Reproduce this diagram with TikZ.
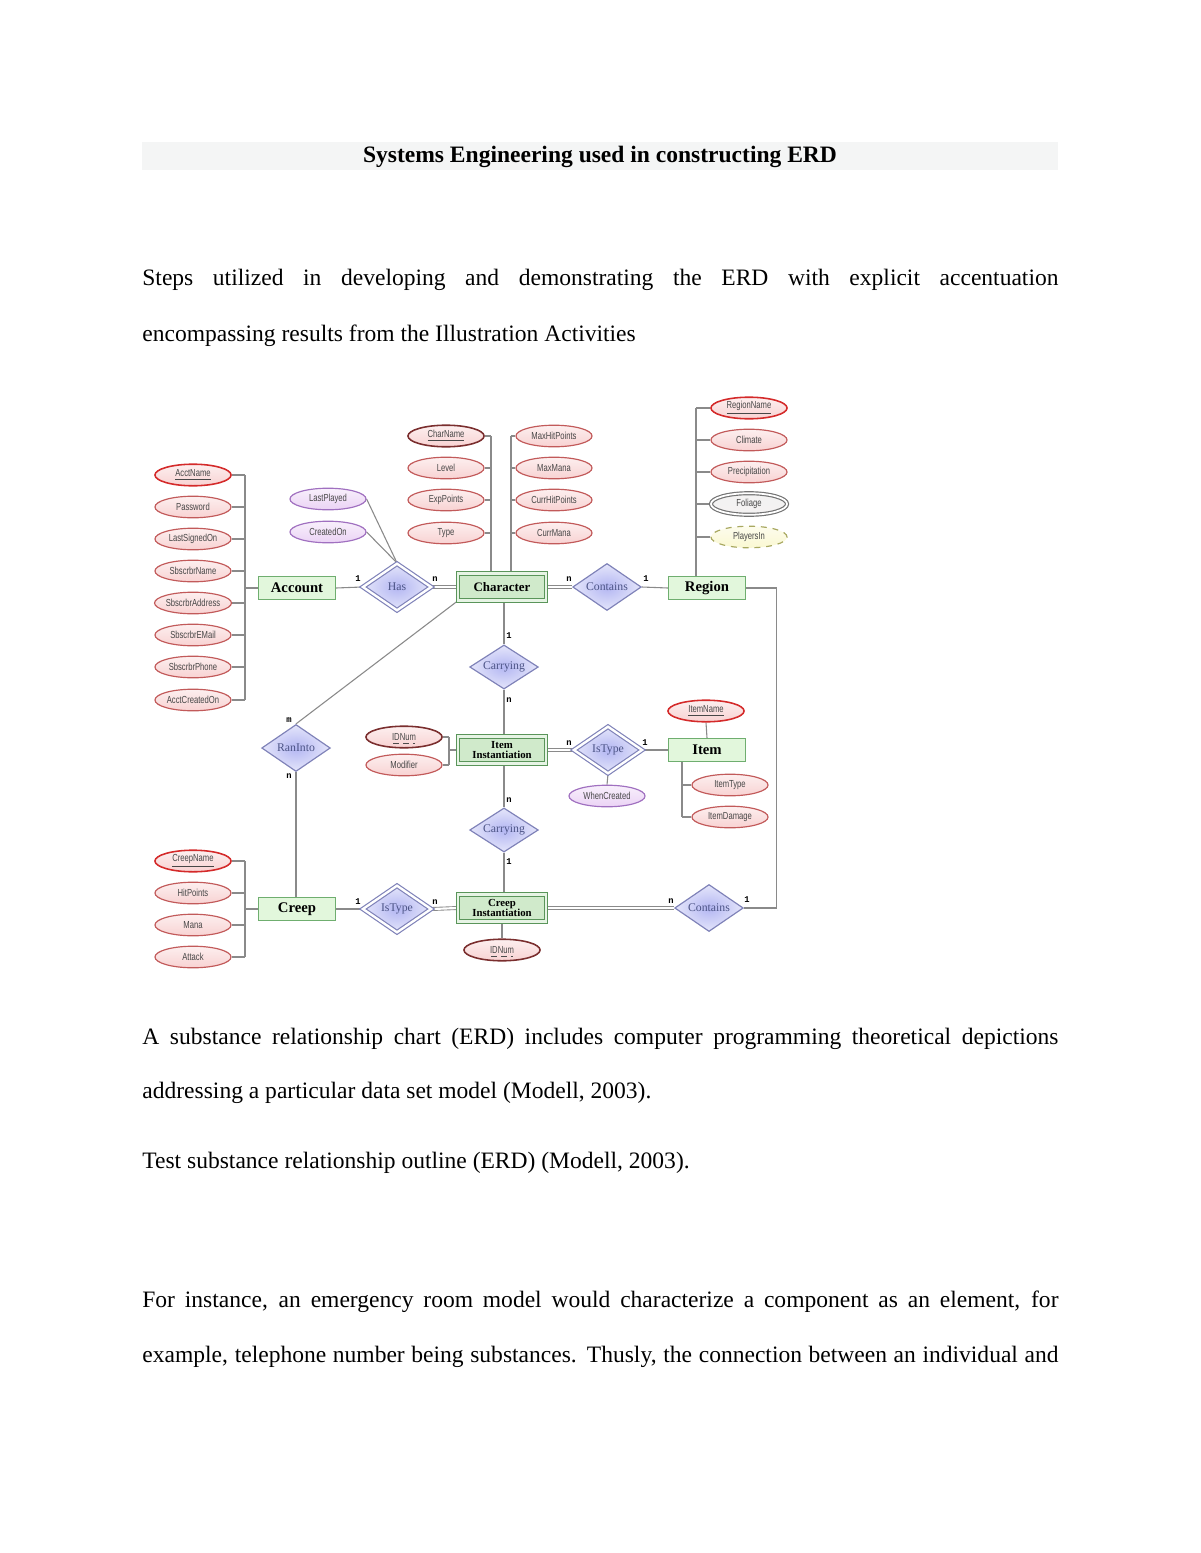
\documentclass[tikz,border=0pt]{standalone}
\usepackage{fontspec}
\setmainfont{Liberation Serif}
\newfontfamily\attrfont[FakeStretch=0.75]{Liberation Sans}
\newfontfamily\cardfont{Liberation Mono}
\usetikzlibrary{shapes.geometric}
\pgfdeclarelayer{bg}
\pgfsetlayers{bg,main}
\definecolor{entfill}{HTML}{E2F7DC}
\definecolor{entdraw}{HTML}{6FAE6F}
\definecolor{wentfill}{HTML}{D0EACB}
\definecolor{wentdraw}{HTML}{5A955A}
\definecolor{relfill}{HTML}{B3B6F2}
\definecolor{reldraw}{HTML}{7F82B8}
\definecolor{reltext}{HTML}{4C5486}
\definecolor{attfill}{HTML}{F8D2D2}
\definecolor{attdraw}{HTML}{C25A5A}
\definecolor{keydraw}{HTML}{D42A2A}
\definecolor{chardraw}{HTML}{7A2E2E}
\definecolor{purfill}{HTML}{EBD3F5}
\definecolor{purdraw}{HTML}{A070C0}
\definecolor{yelfill}{HTML}{FAF8D2}
\definecolor{yeldraw}{HTML}{A8A860}
\definecolor{conncol}{HTML}{8A8A8A}
\definecolor{bandgray}{HTML}{F4F5F5}
\tikzset{
  attr/.style={ellipse, draw=attdraw, line width=0.6pt, top color=attfill!35, bottom color=attfill,
    minimum width=38.8pt, minimum height=11pt, inner sep=0pt, text=black!72,
    font=\attrfont\fontsize{5.2}{5.4}\selectfont},
  keyattr/.style={attr, draw=keydraw, line width=0.8pt},
  purattr/.style={attr, draw=purdraw, top color=purfill!35, bottom color=purfill},
  ent/.style={rectangle, draw=entdraw, line width=0.6pt, fill=entfill, minimum width=39.3pt,
    minimum height=11.7pt, inner sep=0pt, font=\bfseries\fontsize{7.5}{8}\selectfont},
  went/.style={ent, draw=wentdraw, fill=wentfill, double=wentfill!50, double distance=1.2pt,
    minimum width=44.9pt, minimum height=13.8pt, align=center,
    font=\bfseries\fontsize{5.5}{5.2}\selectfont},
  rel/.style={diamond, draw=reldraw, line width=0.6pt, inner color=relfill, outer color=relfill!35,
    minimum width=35pt, minimum height=24pt, inner sep=0pt, aspect=1.4, text=reltext,
    font=\fontsize{6}{6}\selectfont},
  wrel/.style={rel, double=white, double distance=1.2pt},
  cn/.style={draw=conncol, line width=0.55pt},
  dcn/.style={draw=conncol, line width=0.45pt, double=white, double distance=1.1pt},
  card/.style={inner sep=0pt, font=\cardfont\bfseries\fontsize{4.5}{5}\selectfont},
  bodytext/.style={anchor=base west, inner sep=0pt, font=\fontsize{12}{14}\selectfont},
  dul/.style={black!70, densely dashed, line width=0.3pt}
}
\begin{document}
\begin{tikzpicture}[x=0.51pt,y=-0.51pt]
\useasboundingbox (0,0) rectangle (1200,1553);
% title band
\fill[bandgray] (142,142) rectangle (1058,170);
\node[anchor=base, inner sep=0pt, font=\bfseries\fontsize{12}{14}\selectfont] (title) at (600,163) {Systems Engineering used in constructing ERD};
\node[bodytext] (p1) at (142,286) {\makebox[467.2pt][s]{Steps utilized in developing and demonstrating the ERD with explicit accentuation}};
\node[bodytext] (p2) at (142,341) {encompassing results from the Illustration Activities};
\node[bodytext] (p3) at (142,1044) {\makebox[467.2pt][s]{A substance relationship chart (ERD) includes computer programming theoretical depictions}};
\node[bodytext] (p4) at (142,1098) {addressing a particular data set model (Modell, 2003).};
\node[bodytext] (p5) at (142,1168) {Test substance relationship outline (ERD) (Modell, 2003).};
\node[bodytext] (p6) at (142,1307) {\makebox[467.2pt][s]{For instance, an emergency room model would characterize a component as an element, for}};
\node[bodytext] (p7) at (142,1362) {\makebox[467.2pt][s]{example, telephone number being substances. Thusly, the connection between an individual and}};

% ---------- entities ----------
\node[ent] (account) at (297,588) {Account};
\node[went, font=\bfseries\fontsize{6.6}{7}\selectfont] (character) at (502,587) {Character};
\node[ent] (region) at (707,588) {Region};
\node[went] (iteminst) at (502,750) {Item\\Instantiation};
\node[ent] (item) at (707,750) {Item};
\node[ent] (creep) at (297,909) {Creep};
\node[went] (creepinst) at (502,908) {Creep\\Instantiation};

% ---------- relationships ----------
\node[wrel] (has) at (397,587) {Has};
\node[rel] (contains1) at (607,587) {Contains};
\node[rel, minimum height=22.5pt] (carrying1) at (504,667) {Carrying};
\node[wrel] (istype1) at (608,750) {IsType};
\node[rel, minimum height=22.5pt] (carrying2) at (504,830) {Carrying};
\node[rel] (raninto) at (296,748) {RanInto};
\node[wrel] (istype2) at (397,909) {IsType};
\node[rel] (contains2) at (709,908) {Contains};

% ---------- account attributes ----------
\node[keyattr] (a1) at (193,475) {\underline{AcctName}};
\node[attr] (a2) at (193,507) {Password};
\node[attr] (a3) at (193,539) {LastSignedOn};
\node[attr] (a4) at (193,571) {SbscrbrName};
\node[attr] (a5) at (193,603) {SbscrbrAddress};
\node[attr] (a6) at (193,635) {SbscrbrEMail};
\node[attr] (a7) at (193,667) {SbscrbrPhone};
\node[attr] (a8) at (193,700) {AcctCreatedOn};
% has attributes
\node[purattr] (lastplayed) at (328,499) {LastPlayed};
\node[purattr] (createdon) at (328,532) {CreatedOn};
% character attributes
\node[attr, draw=chardraw, line width=0.8pt] (c1) at (446,436) {\underline{CharName}};
\node[attr] (c2) at (446,468) {Level};
\node[attr] (c3) at (446,500) {ExpPoints};
\node[attr] (c4) at (446,533) {Type};
\node[attr] (c5) at (554,436) {MaxHitPoints};
\node[attr] (c6) at (554,468) {MaxMana};
\node[attr] (c7) at (554,500) {CurrHitPoints};
\node[attr] (c8) at (554,533) {CurrMana};
% region attributes
\node[keyattr] (r1) at (749,408) {\underline{RegionName}};
\node[attr] (r2) at (749,440) {Climate};
\node[attr] (r3) at (749,472) {Precipitation};
\node[attr, draw=black!55, top color=black!5, bottom color=attfill!60!black!10, double=white, double distance=0.9pt] (r4) at (749,504) {Foliage};
\node[attr, draw=yeldraw, dashed, top color=yelfill!40, bottom color=yelfill] (r5) at (749,537) {PlayersIn};
% item instantiation attributes
\node[attr, draw=chardraw, line width=0.8pt] (ii1) at (404,737) {IDNum};
\node[attr] (ii2) at (404,765) {Modifier};
\node[purattr] (whencreated) at (607,796) {WhenCreated};
% item attributes
\node[keyattr] (i1) at (706,711) {\underline{ItemName}};
\node[attr] (i2) at (730,785) {ItemType};
\node[attr] (i3) at (730,817) {ItemDamage};
% creep attributes
\node[keyattr] (k1) at (193,861) {\underline{CreepName}};
\node[attr] (k2) at (193,893) {HitPoints};
\node[attr] (k3) at (193,925) {Mana};
\node[attr] (k4) at (193,957) {Attack};
% creep instantiation attribute
\node[attr, draw=chardraw, line width=0.8pt] (ci1) at (502,950) {IDNum};
% dashed underlines of partial keys
\draw[dul] ([xshift=-5.5pt,yshift=-3.0pt]ii1.center) -- ([xshift=5.5pt,yshift=-3.0pt]ii1.center);
\draw[dul] ([xshift=-5.5pt,yshift=-3.0pt]ci1.center) -- ([xshift=5.5pt,yshift=-3.0pt]ci1.center);

% ---------- cardinalities ----------
\node[card] (n1) at (358,579) {1};
\node[card] (n2) at (435,579) {n};
\node[card] (n3) at (569,579) {n};
\node[card] (n4) at (646,579) {1};
\node[card] (n5) at (509,636) {1};
\node[card] (n6) at (509,700) {n};
\node[card] (n7) at (569,743) {n};
\node[card] (n8) at (645,743) {1};
\node[card] (n9) at (509,800) {n};
\node[card] (n10) at (509,862) {1};
\node[card] (n11) at (289,720) {m};
\node[card] (n12) at (289,776) {n};
\node[card] (n13) at (358,902) {1};
\node[card] (n14) at (435,902) {n};
\node[card] (n15) at (671,901) {n};
\node[card] (n16) at (747,900) {1};

% ---------- connectors ----------
\coordinate (busA) at (245,0);
\coordinate (busCL) at (491,0);
\coordinate (busCR) at (511,0);
\coordinate (busR) at (696,0);
\coordinate (busII) at (449,0);
\coordinate (busI) at (682,0);
\begin{pgfonlayer}{bg}
  % account bus
  \foreach \n in {a1,a2,a3,a4,a5,a6,a7,a8} \draw[cn] (\n.east) -- (\n.east -| busA);
  \draw[cn] (a1.east -| busA) -- (a8.east -| busA);
  \draw[cn] (account.west) -- (account.west -| busA);
  % creep bus
  \foreach \n in {k1,k2,k3,k4} \draw[cn] (\n.east) -- (\n.east -| busA);
  \draw[cn] (k1.east -| busA) -- (k4.east -| busA);
  \draw[cn] (creep.west) -- (creep.west -| busA);
  % character buses
  \foreach \n in {c1,c2,c3,c4} \draw[cn] (\n.east) -- (\n.east -| busCL);
  \draw[cn] (c1.east -| busCL) -- (character.north -| busCL);
  \foreach \n in {c5,c6,c7,c8} \draw[cn] (\n.west) -- (\n.west -| busCR);
  \draw[cn] (c5.west -| busCR) -- (character.north -| busCR);
  % region bus
  \foreach \n in {r1,r2,r3,r4,r5} \draw[cn] (\n.west) -- (\n.west -| busR);
  \draw[cn] (r1.west -| busR) -- (region.north -| busR);
  % item instantiation bus
  \foreach \n in {ii1,ii2} \draw[cn] (\n.east) -- (\n.east -| busII);
  \draw[cn] (ii1.east -| busII) -- (ii2.east -| busII);
  \draw[cn] (iteminst.west) -- (iteminst.west -| busII);
  % item attributes
  \draw[cn] (i1.south) -- (item.north);
  \foreach \n in {i2,i3} \draw[cn] (\n.west) -- (\n.west -| busI);
  \draw[cn] (item.south -| busI) -- (i3.west -| busI);
  % relationships
  \draw[cn] (account.east) -- (has.west);
  \draw[dcn] (has.east) -- (character.west);
  \draw[cn] (lastplayed.east) -- (has.north);
  \draw[cn] (createdon.east) -- (has.north);
  \draw[dcn] (character.east) -- (contains1.west);
  \draw[cn] (contains1.east) -- (region.west);
  \draw[cn] (character.south -| carrying1.north) -- (carrying1.north);
  \draw[cn] (carrying1.south) -- (iteminst.north -| carrying1.south);
  \draw[dcn] (iteminst.east) -- (istype1.west);
  \draw[cn] (istype1.east) -- (item.west);
  \draw[cn] (istype1.south) -- (whencreated.north);
  \draw[cn] (iteminst.south -| carrying2.north) -- (carrying2.north);
  \draw[cn] (carrying2.south) -- (creepinst.north -| carrying2.south);
  \draw[cn] (creepinst.south) -- (ci1.north);
  \draw[cn] (raninto.north) -- (character.south west);
  \draw[draw=conncol, line width=1pt] (raninto.south) -- (creep.north -| raninto.south);
  \draw[cn] (creep.east) -- (istype2.west);
  \draw[dcn] (istype2.east) -- (creepinst.west);
  \draw[dcn] (creepinst.east) -- (contains2.west);
  \draw[cn] (region.east) -- ++(30,0) |- (contains2.east);
\end{pgfonlayer}
\end{tikzpicture}
\end{document}
